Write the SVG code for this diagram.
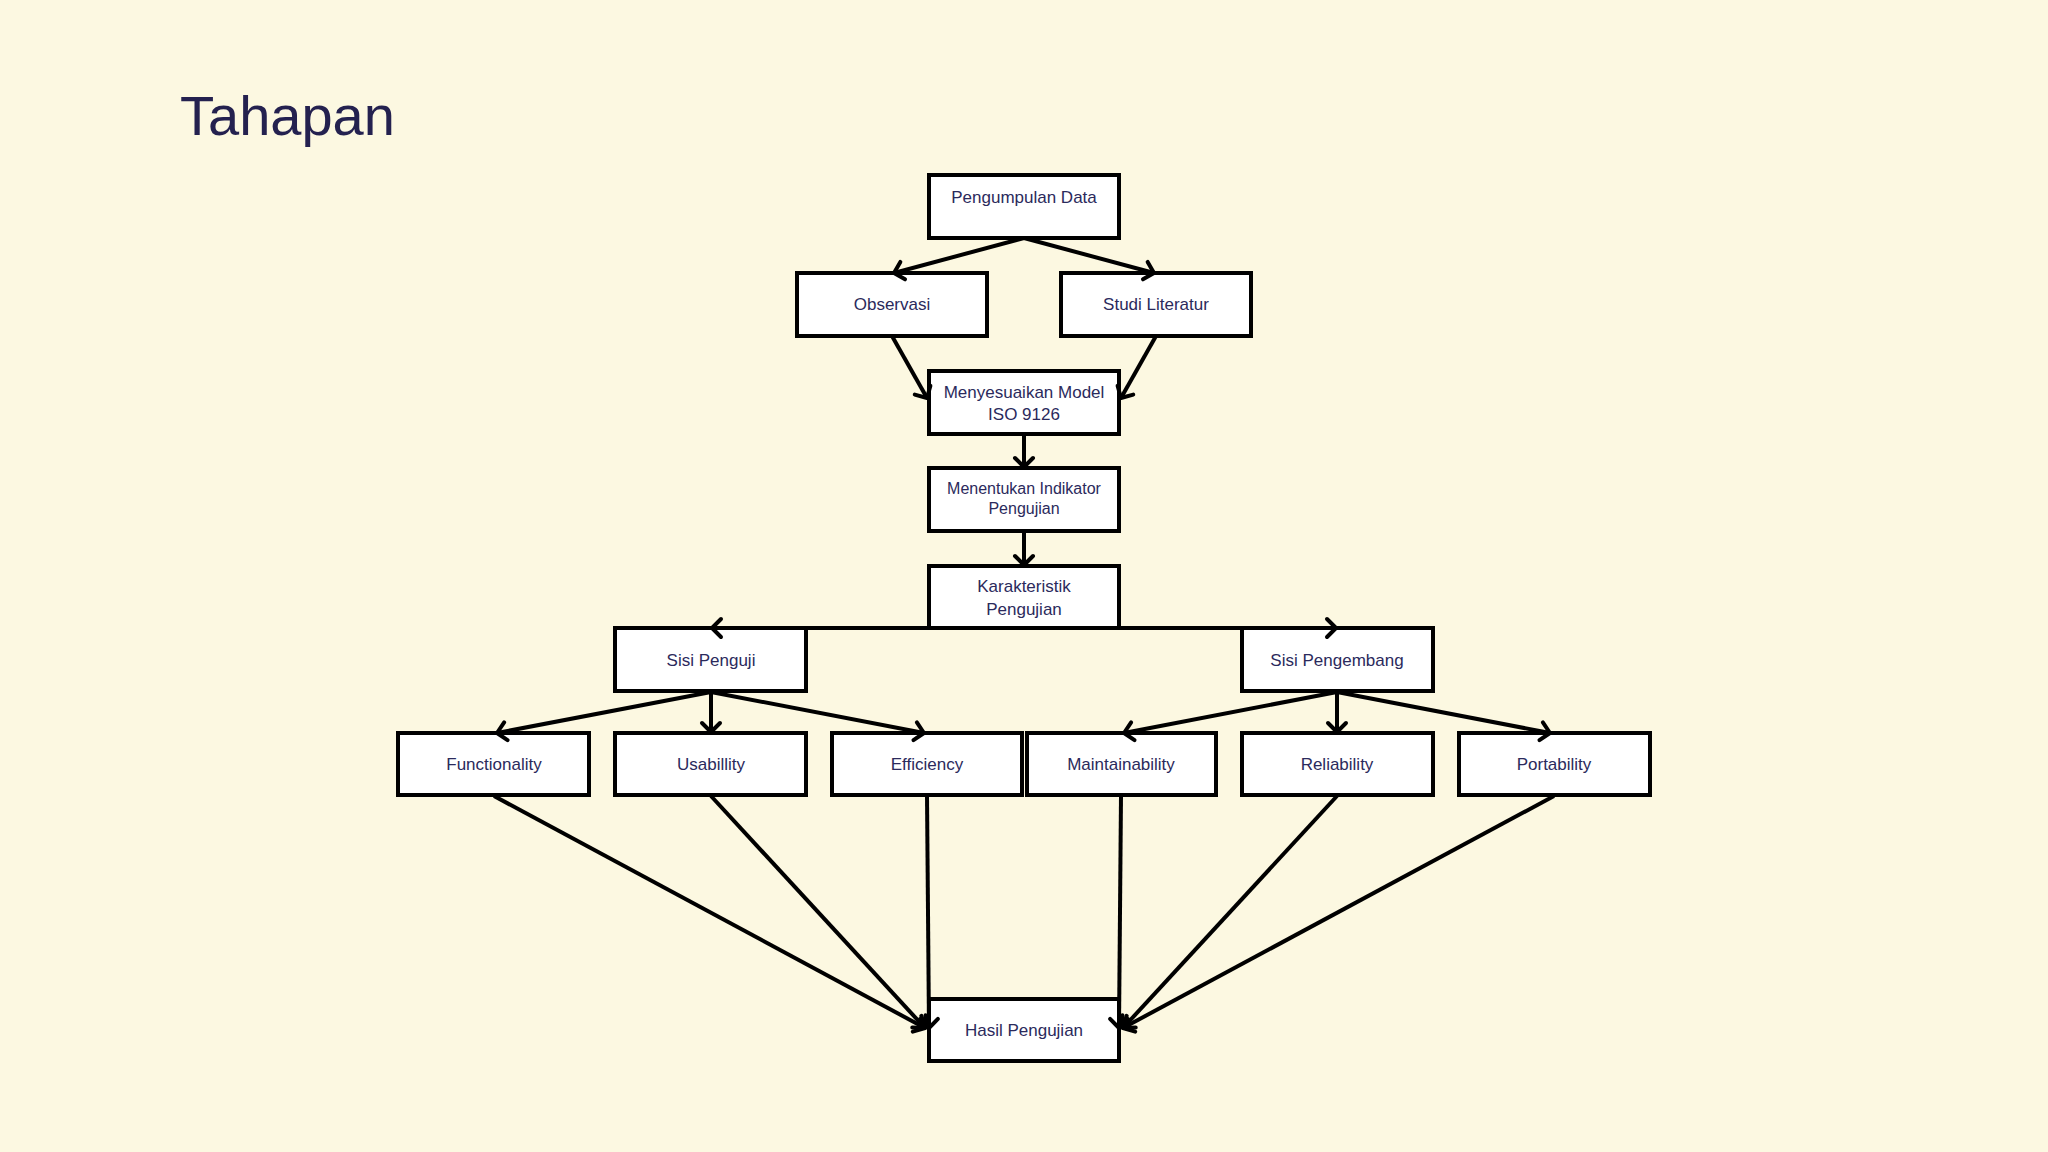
<svg xmlns="http://www.w3.org/2000/svg" width="2048" height="1152" viewBox="0 0 2048 1152">
<defs>
<marker id="arr" markerUnits="userSpaceOnUse" markerWidth="18" markerHeight="22" viewBox="0 0 18 22" refX="13" refY="11" orient="auto" overflow="visible">
<path d="M4,2 L13,11 L4,20" fill="none" stroke="#000" stroke-width="4" stroke-linecap="round" stroke-linejoin="round"/>
</marker>
<style>
.box{fill:#fff;stroke:#000;stroke-width:4}
.t{font-family:"Liberation Sans",Arial,sans-serif;font-size:17px;fill:#2b2a5c;text-anchor:middle}
.s{font-size:16px}
.c{fill:none;stroke:#000;stroke-width:4;marker-end:url(#arr)}
</style>
</defs>
<rect width="2048" height="1152" fill="#fcf8e1"/>
<text x="180" y="135" font-family="'Liberation Sans',Arial,sans-serif" font-size="56" fill="#24214f">Tahapan</text>

<g id="pengumpulan"><rect class="box" x="929" y="175" width="190" height="63"/><text class="t" x="1024" y="203">Pengumpulan Data</text></g>
<g id="observasi"><rect class="box" x="797" y="273" width="190" height="63"/><text class="t" x="892" y="310">Observasi</text></g>
<g id="studi"><rect class="box" x="1061" y="273" width="190" height="63"/><text class="t" x="1156" y="310">Studi Literatur</text></g>
<g id="menyesuaikan"><rect class="box" x="929" y="371" width="190" height="63"/><text class="t" x="1024" y="398">Menyesuaikan Model</text><text class="t" x="1024" y="420">ISO 9126</text></g>
<g id="menentukan"><rect class="box" x="929" y="468" width="190" height="63"/><text class="t s" x="1024" y="494">Menentukan Indikator</text><text class="t s" x="1024" y="514">Pengujian</text></g>
<g id="karakteristik"><rect class="box" x="929" y="566" width="190" height="62"/><text class="t" x="1024" y="592">Karakteristik</text><text class="t" x="1024" y="615">Pengujian</text></g>
<g id="sisi-penguji"><rect class="box" x="615" y="628" width="191" height="63"/><text class="t" x="711" y="666">Sisi Penguji</text></g>
<g id="sisi-pengembang"><rect class="box" x="1242" y="628" width="191" height="63"/><text class="t" x="1337" y="666">Sisi Pengembang</text></g>
<g id="functionality"><rect class="box" x="398" y="733" width="191" height="62"/><text class="t" x="494" y="770">Functionality</text></g>
<g id="usability"><rect class="box" x="615" y="733" width="191" height="62"/><text class="t" x="711" y="770">Usabillity</text></g>
<g id="efficiency"><rect class="box" x="832" y="733" width="190" height="62"/><text class="t" x="927" y="770">Efficiency</text></g>
<g id="maintainability"><rect class="box" x="1027" y="733" width="189" height="62"/><text class="t" x="1121" y="770">Maintainability</text></g>
<g id="reliability"><rect class="box" x="1242" y="733" width="191" height="62"/><text class="t" x="1337" y="770">Reliability</text></g>
<g id="portability"><rect class="box" x="1459" y="733" width="191" height="62"/><text class="t" x="1554" y="770">Portability</text></g>
<g id="hasil"><rect class="box" x="929" y="999" width="190" height="62"/><text class="t" x="1024" y="1036">Hasil Pengujian</text></g>

<g id="connectors">
<line class="c" x1="1024" y1="238" x2="894" y2="273"/>
<line class="c" x1="1024" y1="238" x2="1154" y2="273"/>
<line class="c" x1="892" y1="336" x2="927" y2="398"/>
<line class="c" x1="1156" y1="336" x2="1121" y2="398"/>
<line class="c" x1="1024" y1="434" x2="1024" y2="467"/>
<line class="c" x1="1024" y1="531" x2="1024" y2="565"/>
<line class="c" x1="1024" y1="628" x2="712" y2="628"/>
<line class="c" x1="1024" y1="628" x2="1336" y2="628"/>
<line class="c" x1="711" y1="692" x2="497" y2="733"/>
<line class="c" x1="711" y1="692" x2="711" y2="732"/>
<line class="c" x1="711" y1="692" x2="924" y2="733"/>
<line class="c" x1="1337" y1="692" x2="1124" y2="733"/>
<line class="c" x1="1337" y1="692" x2="1337" y2="732"/>
<line class="c" x1="1337" y1="692" x2="1550" y2="733"/>
<line class="c" x1="494" y1="796" x2="925" y2="1028"/>
<line class="c" x1="711" y1="796" x2="925" y2="1028"/>
<line class="c" x1="927" y1="796" x2="929" y2="1028"/>
<line class="c" x1="1121" y1="796" x2="1119" y2="1028"/>
<line class="c" x1="1337" y1="796" x2="1123" y2="1028"/>
<line class="c" x1="1554" y1="796" x2="1123" y2="1028"/>
</g>
</svg>
